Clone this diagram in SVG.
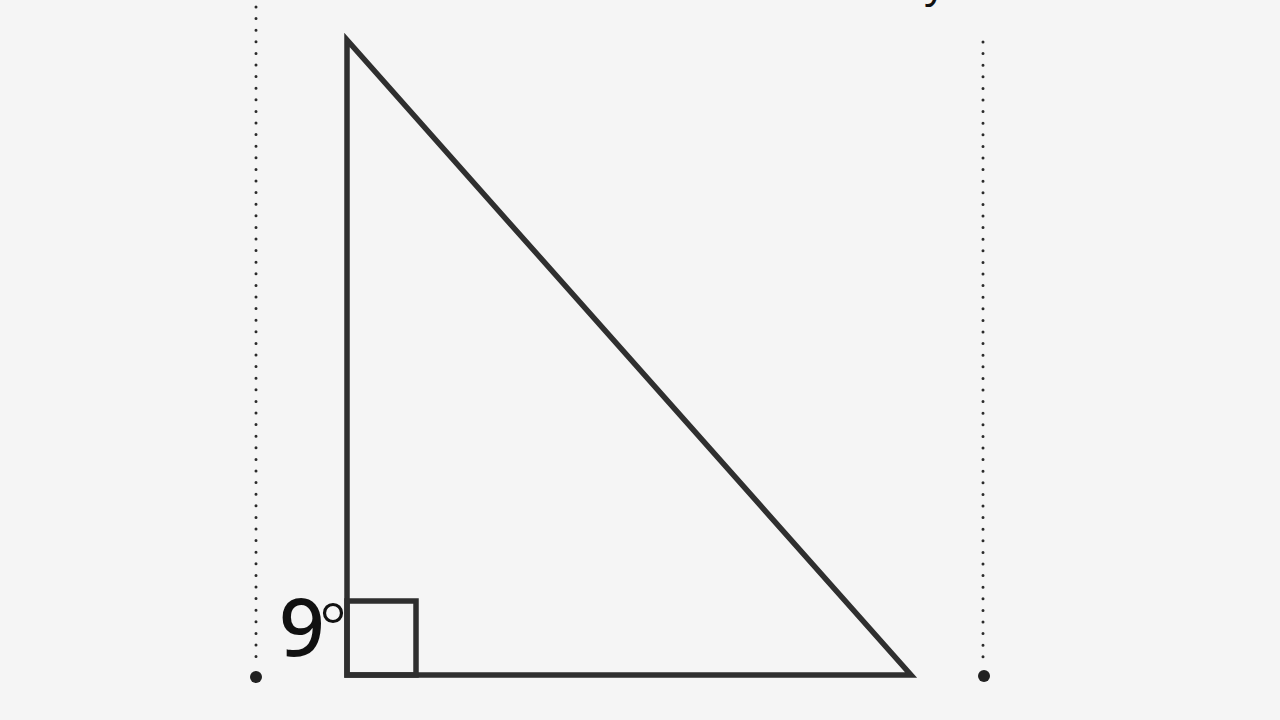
<svg xmlns="http://www.w3.org/2000/svg" width="1280" height="720" viewBox="0 0 1280 720">
<style>
.guide{stroke:#2a2a2a;stroke-width:3;stroke-linecap:round;stroke-dasharray:0 11.6;fill:none}
.dot{fill:#222}
.shape{stroke:#2f2f2f;stroke-width:5.5;fill:none;stroke-linejoin:miter}
.lbl{font-family:"Noto Sans","Liberation Sans",sans-serif;fill:#111}
</style>
<rect width="1280" height="720" fill="#f5f5f5"/>
<g id="guides">
<line class="guide" x1="256" y1="7" x2="256" y2="665"/>
<circle class="dot" cx="256" cy="677" r="6"/>
<line class="guide" x1="983" y1="42" x2="983" y2="665"/>
<circle class="dot" cx="984" cy="676" r="6"/>
</g>
<g id="triangle">
<polygon class="shape" points="347,40 347,675 911,675"/>
<rect class="shape" x="347" y="601" width="69" height="74"/>
</g>
<g id="label">
<text class="lbl" x="279" y="656" font-size="80" font-weight="500">9</text>
<circle cx="333" cy="613" r="8.5" fill="none" stroke="#111" stroke-width="3.2"/>
<text class="lbl" x="925" y="-3" font-size="40">y</text>
</g>
</svg>
